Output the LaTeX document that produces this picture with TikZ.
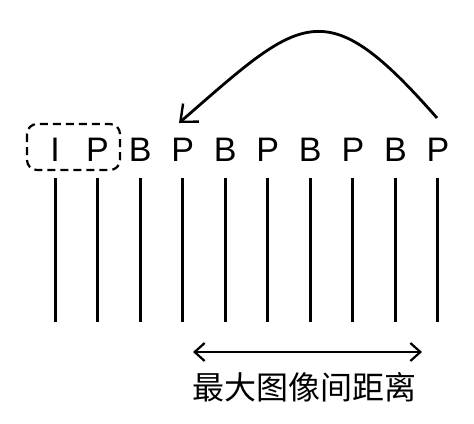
\documentclass[tikz,border=0pt]{standalone}
\usepackage{fontspec}
\setmainfont{Liberation Sans}
\newfontfamily\cjk{Noto Sans CJK SC}
\usetikzlibrary{arrows.meta,positioning,calc}
\tikzset{
  frm/.style ={font=\fontsize{17}{18}\selectfont,inner sep=0pt},
  vln/.style ={line width=1.5pt},
  grp/.style ={draw,dashed,line width=1.1pt,rounded corners=5pt,
               dash pattern=on 4pt off 2.5pt},
  ref/.style ={-{Straight Barb[length=7pt,width=12pt,line width=1.2pt]},line width=1.4pt},
  span/.style={{Straight Barb[length=5pt,width=9pt,line width=1.1pt]}-{Straight Barb[length=5pt,width=9pt,line width=1.1pt]},line width=1.4pt},
  lbl/.style ={font=\cjk\fontsize{16}{18}\selectfont,inner sep=0pt},
}
\begin{document}
\begin{tikzpicture}[x=0.5pt,y=-0.5pt]
  \useasboundingbox (0,0) rectangle (474,423);
  % frames
  \foreach \t [count=\i from 0] in {I,P,B,P,B,P,B,P,B,P} {
    \node[frm] (f\i) at (55+42.55*\i,150) {\t};
    \draw[vln] (55+42.55*\i,178) -- (55+42.55*\i,322);
  }
  % I/P group
  \draw[grp] (27,124) rectangle (120,170);
  % reference from last P to first B-side P
  \coordinate (src) at (437,118);
  \coordinate (dst) at (179,123);
  \draw[ref] (src) .. controls (324,-11) and (302,16) .. (dst);
  % maximum distance
  \coordinate (dl) at (193,352);
  \coordinate (dr) at (422,352);
  \draw[span] (dl) -- (dr);
  \node[lbl] (dist) at (304,387) {最大图像间距离};
\end{tikzpicture}
\end{document}
